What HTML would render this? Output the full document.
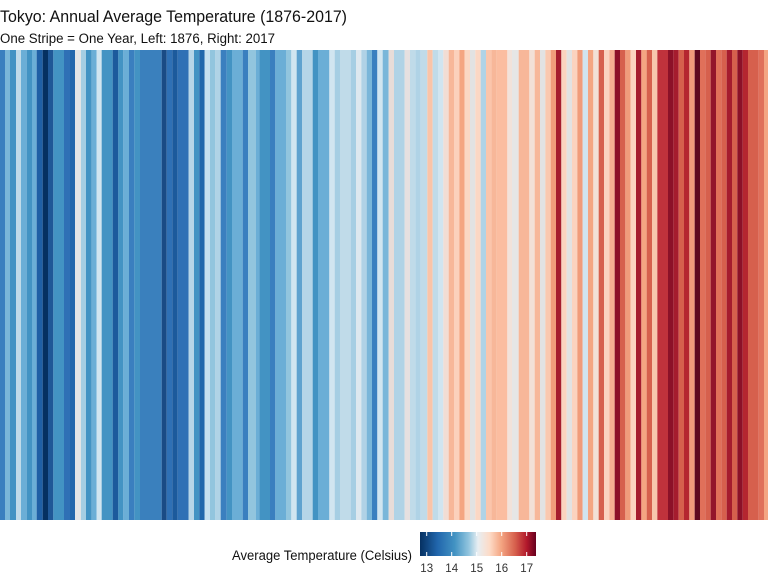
<!DOCTYPE html>
<html><head><meta charset="utf-8"><style>
html,body{margin:0;padding:0;background:#fff;}
svg{display:block;font-family:"Liberation Sans",sans-serif;}
</style></head><body>
<svg width="768" height="576" viewBox="0 0 768 576" xmlns="http://www.w3.org/2000/svg">
<defs>
<linearGradient id="cb" x1="0" x2="1" y1="0" y2="0">
<stop offset="0" stop-color="#053061"/>
<stop offset="0.15" stop-color="#2166ac"/>
<stop offset="0.3" stop-color="#4393c3"/>
<stop offset="0.42" stop-color="#92c5de"/>
<stop offset="0.5" stop-color="#e8eef2"/>
<stop offset="0.6" stop-color="#fddbc7"/>
<stop offset="0.7" stop-color="#f4a582"/>
<stop offset="0.82" stop-color="#d6604d"/>
<stop offset="0.92" stop-color="#b2182b"/>
<stop offset="1" stop-color="#67001f"/>
</linearGradient>
</defs>
<text x="0" y="22" font-size="17" fill="#111" textLength="347" lengthAdjust="spacingAndGlyphs">Tokyo: Annual Average Temperature (1876-2017)</text>
<text x="0" y="43" font-size="13.5" fill="#111" textLength="275" lengthAdjust="spacingAndGlyphs">One Stripe = One Year, Left: 1876, Right: 2017</text>
<g transform="translate(0,50) scale(0.33334,1)">
<rect x="0" width="15" height="470" fill="#3a7fbf"/>
<rect x="15" width="15" height="470" fill="#7ab6d9"/>
<rect x="30" width="18" height="470" fill="#4393c3"/>
<rect x="48" width="15" height="470" fill="#c0dbe9"/>
<rect x="63" width="17" height="470" fill="#6baed6"/>
<rect x="80" width="16" height="470" fill="#4393c3"/>
<rect x="96" width="14" height="470" fill="#6baed6"/>
<rect x="110" width="18" height="470" fill="#1f5fa5"/>
<rect x="128" width="16" height="470" fill="#053061"/>
<rect x="144" width="16" height="470" fill="#1f5797"/>
<rect x="160" width="32" height="470" fill="#4393c3"/>
<rect x="192" width="18" height="470" fill="#2f70b5"/>
<rect x="210" width="15" height="470" fill="#2166ac"/>
<rect x="225" width="18" height="470" fill="#e2e4e6"/>
<rect x="243" width="15" height="470" fill="#a6cee3"/>
<rect x="258" width="17" height="470" fill="#4393c3"/>
<rect x="275" width="15" height="470" fill="#6baed6"/>
<rect x="290" width="15" height="470" fill="#d1e5f0"/>
<rect x="305" width="33" height="470" fill="#4393c3"/>
<rect x="338" width="17" height="470" fill="#1c5a9c"/>
<rect x="355" width="15" height="470" fill="#4393c3"/>
<rect x="370" width="17" height="470" fill="#6baed6"/>
<rect x="387" width="16" height="470" fill="#3a7fbf"/>
<rect x="403" width="17" height="470" fill="#4393c3"/>
<rect x="420" width="65" height="470" fill="#3a80bd"/>
<rect x="485" width="15" height="470" fill="#1a4b85"/>
<rect x="500" width="17" height="470" fill="#2f70b5"/>
<rect x="517" width="16" height="470" fill="#1c5a9c"/>
<rect x="533" width="33" height="470" fill="#2f70b5"/>
<rect x="566" width="16" height="470" fill="#b7d6e8"/>
<rect x="582" width="16" height="470" fill="#4393c3"/>
<rect x="598" width="16" height="470" fill="#2166ac"/>
<rect x="614" width="16" height="470" fill="#c6dff0"/>
<rect x="630" width="16" height="470" fill="#92c5de"/>
<rect x="646" width="16" height="470" fill="#b0d3e6"/>
<rect x="662" width="18" height="470" fill="#3a7fbf"/>
<rect x="680" width="16" height="470" fill="#4393c3"/>
<rect x="696" width="32" height="470" fill="#6baed6"/>
<rect x="728" width="16" height="470" fill="#3a7fbf"/>
<rect x="744" width="24" height="470" fill="#92c5de"/>
</g>
<g transform="translate(256,50) scale(0.33334,1)">
<rect x="0" width="10" height="470" fill="#6baed6"/>
<rect x="10" width="32" height="470" fill="#4393c3"/>
<rect x="42" width="16" height="470" fill="#3a7fbf"/>
<rect x="58" width="32" height="470" fill="#6baed6"/>
<rect x="90" width="16" height="470" fill="#92c5de"/>
<rect x="106" width="16" height="470" fill="#d1e5f0"/>
<rect x="122" width="16" height="470" fill="#5fa2cf"/>
<rect x="138" width="32" height="470" fill="#b5d5e8"/>
<rect x="170" width="16" height="470" fill="#4393c3"/>
<rect x="186" width="34" height="470" fill="#6baed6"/>
<rect x="220" width="16" height="470" fill="#d1e5f0"/>
<rect x="236" width="16" height="470" fill="#a6cee3"/>
<rect x="252" width="32" height="470" fill="#c0dbe9"/>
<rect x="284" width="16" height="470" fill="#a6cee3"/>
<rect x="300" width="16" height="470" fill="#dde8ef"/>
<rect x="316" width="16" height="470" fill="#b0d2e6"/>
<rect x="332" width="16" height="470" fill="#7ab6d9"/>
<rect x="348" width="16" height="470" fill="#3a7fbf"/>
<rect x="364" width="16" height="470" fill="#d1e5f0"/>
<rect x="380" width="18" height="470" fill="#7ab6d9"/>
<rect x="398" width="16" height="470" fill="#e8dcd8"/>
<rect x="414" width="32" height="470" fill="#b0d3e6"/>
<rect x="446" width="16" height="470" fill="#e6e0e0"/>
<rect x="462" width="16" height="470" fill="#c0dbe9"/>
<rect x="478" width="16" height="470" fill="#b0d3e6"/>
<rect x="494" width="20" height="470" fill="#c0dbe9"/>
<rect x="514" width="16" height="470" fill="#fac4a8"/>
<rect x="530" width="16" height="470" fill="#c0dbe9"/>
<rect x="546" width="16" height="470" fill="#d1e5f0"/>
<rect x="562" width="16" height="470" fill="#f2ddd4"/>
<rect x="578" width="16" height="470" fill="#f7b799"/>
<rect x="594" width="16" height="470" fill="#fbd1bc"/>
<rect x="610" width="16" height="470" fill="#f4a582"/>
<rect x="626" width="16" height="470" fill="#fbd7c4"/>
<rect x="642" width="16" height="470" fill="#e2e2e2"/>
<rect x="658" width="16" height="470" fill="#fbd7c4"/>
<rect x="674" width="16" height="470" fill="#b0d3e6"/>
<rect x="690" width="16" height="470" fill="#fbc5ab"/>
<rect x="706" width="16" height="470" fill="#f7b799"/>
<rect x="722" width="32" height="470" fill="#fbbda0"/>
<rect x="754" width="14" height="470" fill="#f2e2da"/>
</g>
<g transform="translate(512,50) scale(0.33334,1)">
<rect x="0" width="20" height="470" fill="#e6e6e6"/>
<rect x="20" width="32" height="470" fill="#f7b799"/>
<rect x="52" width="16" height="470" fill="#f2e0d6"/>
<rect x="68" width="16" height="470" fill="#f7b799"/>
<rect x="84" width="16" height="470" fill="#e2e2e2"/>
<rect x="100" width="16" height="470" fill="#fac8af"/>
<rect x="116" width="16" height="470" fill="#f09c7b"/>
<rect x="132" width="16" height="470" fill="#a51c2e"/>
<rect x="148" width="16" height="470" fill="#fbd3bf"/>
<rect x="164" width="16" height="470" fill="#e2e2e2"/>
<rect x="180" width="16" height="470" fill="#fbd3bf"/>
<rect x="196" width="16" height="470" fill="#f09c7b"/>
<rect x="212" width="16" height="470" fill="#d1e5f0"/>
<rect x="228" width="16" height="470" fill="#f4a582"/>
<rect x="244" width="16" height="470" fill="#f2e0d6"/>
<rect x="260" width="16" height="470" fill="#d6604d"/>
<rect x="276" width="16" height="470" fill="#fbd3bf"/>
<rect x="292" width="16" height="470" fill="#f6b092"/>
<rect x="308" width="16" height="470" fill="#8c1128"/>
<rect x="324" width="16" height="470" fill="#d6604d"/>
<rect x="340" width="16" height="470" fill="#f09c7b"/>
<rect x="356" width="16" height="470" fill="#fbd3bf"/>
<rect x="372" width="16" height="470" fill="#a51c2e"/>
<rect x="388" width="16" height="470" fill="#f4a582"/>
<rect x="404" width="16" height="470" fill="#d6604d"/>
<rect x="420" width="16" height="470" fill="#f7c7ad"/>
<rect x="436" width="32" height="470" fill="#c0323c"/>
<rect x="468" width="16" height="470" fill="#8c1128"/>
<rect x="484" width="16" height="470" fill="#a51c2e"/>
<rect x="500" width="16" height="470" fill="#d6604d"/>
<rect x="516" width="16" height="470" fill="#b52630"/>
<rect x="532" width="16" height="470" fill="#f09c7b"/>
<rect x="548" width="16" height="470" fill="#5e0a1f"/>
<rect x="564" width="16" height="470" fill="#e0705a"/>
<rect x="580" width="16" height="470" fill="#d6604d"/>
<rect x="596" width="16" height="470" fill="#93152b"/>
<rect x="612" width="16" height="470" fill="#e0705a"/>
<rect x="628" width="16" height="470" fill="#d6604d"/>
<rect x="644" width="16" height="470" fill="#a51c2e"/>
<rect x="660" width="16" height="470" fill="#d6604d"/>
<rect x="676" width="16" height="470" fill="#8c1128"/>
<rect x="692" width="16" height="470" fill="#b52630"/>
<rect x="708" width="32" height="470" fill="#d6604d"/>
<rect x="740" width="16" height="470" fill="#e0705a"/>
<rect x="756" width="12" height="470" fill="#f4a582"/>
</g>
<text x="232" y="560" font-size="13.5" fill="#111" textLength="180" lengthAdjust="spacingAndGlyphs">Average Temperature (Celsius)</text>
<rect x="420" y="532" width="116" height="24" fill="url(#cb)"/>
<g stroke="#fff" stroke-width="1">
<line x1="426.7" y1="532" x2="426.7" y2="536"/><line x1="426.7" y1="552" x2="426.7" y2="556"/>
<line x1="451.7" y1="532" x2="451.7" y2="536"/><line x1="451.7" y1="552" x2="451.7" y2="556"/>
<line x1="476.7" y1="532" x2="476.7" y2="536"/><line x1="476.7" y1="552" x2="476.7" y2="556"/>
<line x1="501.7" y1="532" x2="501.7" y2="536"/><line x1="501.7" y1="552" x2="501.7" y2="556"/>
<line x1="526.7" y1="532" x2="526.7" y2="536"/><line x1="526.7" y1="552" x2="526.7" y2="556"/>
</g>
<g font-size="11.5" fill="#333" text-anchor="middle">
<text x="426.7" y="572">13</text><text x="451.7" y="572">14</text><text x="476.7" y="572">15</text><text x="501.7" y="572">16</text><text x="526.7" y="572">17</text>
</g>
</svg>
</body></html>
